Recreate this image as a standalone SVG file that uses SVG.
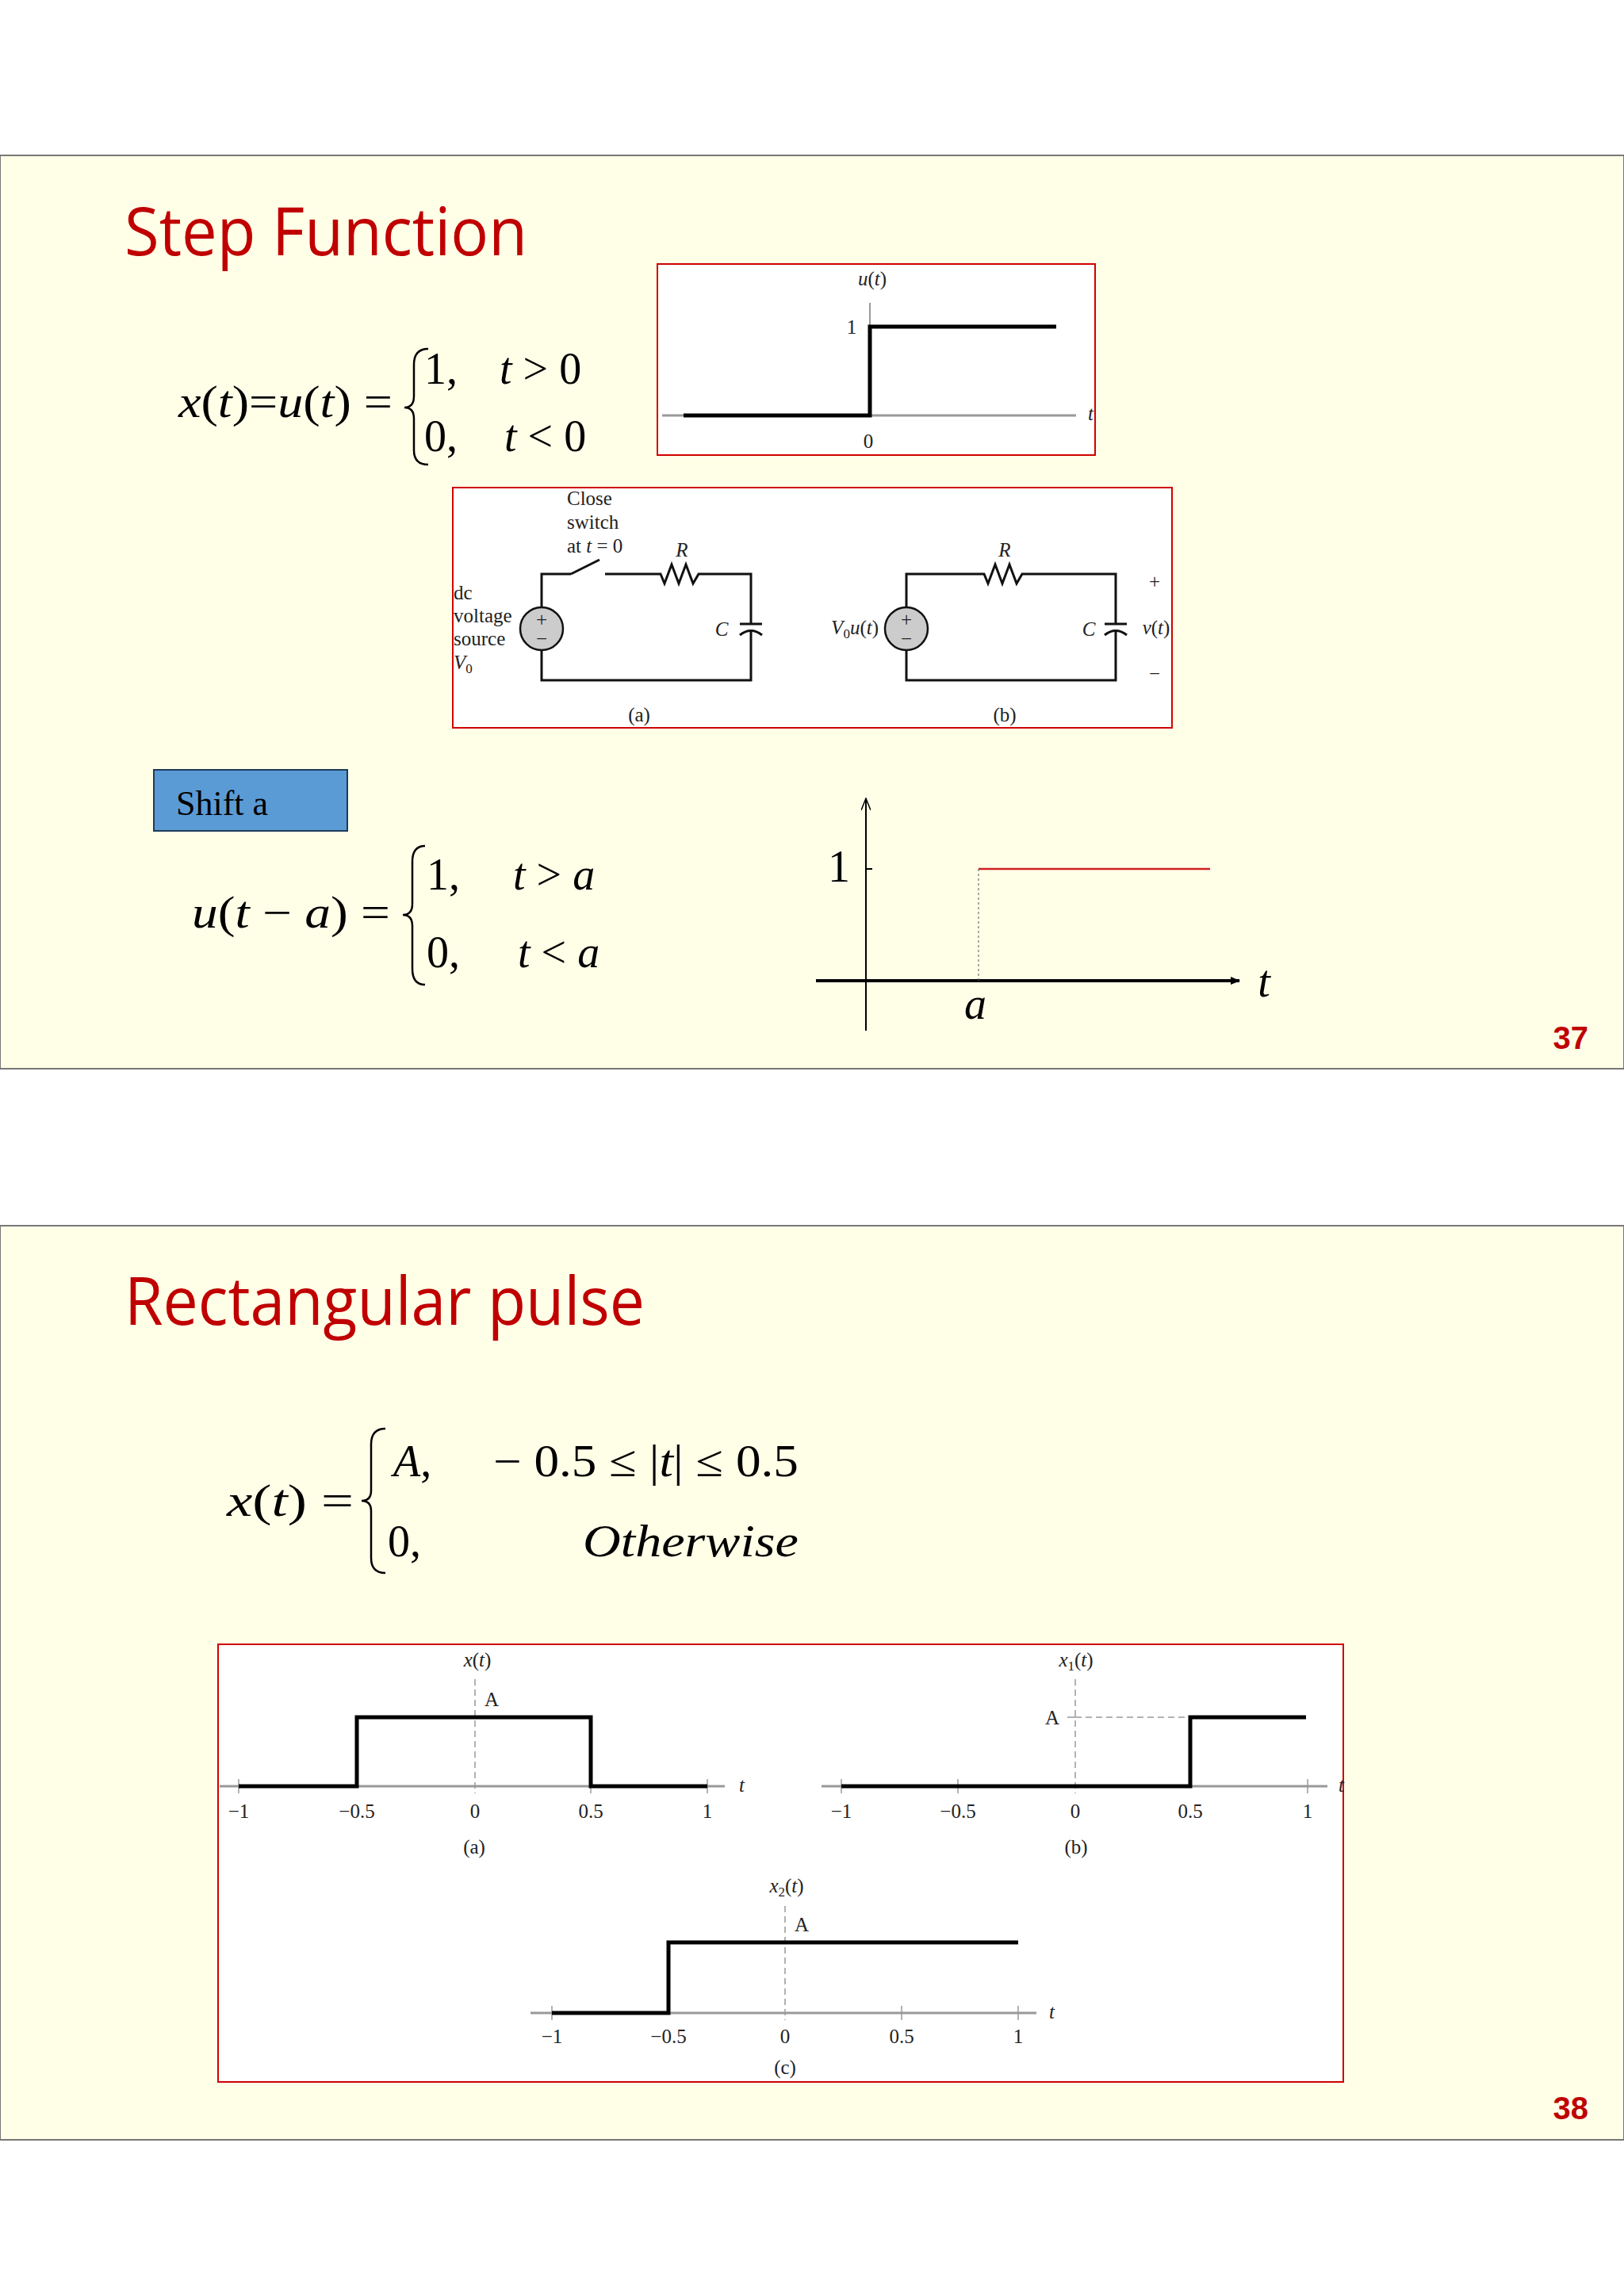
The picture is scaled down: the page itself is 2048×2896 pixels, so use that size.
<svg xmlns="http://www.w3.org/2000/svg" width="2048" height="2896" viewBox="0 0 2048 2896">
<style>
.slide{fill:#ffffe8;stroke:#777;stroke-width:2}
.title{font-family:"Open Sans","Liberation Sans",sans-serif;fill:#c00000;font-size:84px}
.pg{font-family:"Liberation Sans",sans-serif;font-weight:bold;fill:#c00000;font-size:40px}
.m{font-family:"Liberation Serif",serif;font-size:56px;fill:#000}
.i{font-style:italic}
.s{font-family:"Liberation Serif",serif;font-size:25px;fill:#222}
.fr{fill:#fff;stroke:#d00000;stroke-width:2}
.ax{stroke:#999;stroke-width:3;fill:none}
.sig{stroke:#000;stroke-width:5;fill:none}
.w{stroke:#111;stroke-width:3;fill:none}
.dash{stroke:#999;stroke-width:1.5;stroke-dasharray:8 5;fill:none}
</style>
<defs>
<marker id="ah" markerWidth="12" markerHeight="10" refX="11" refY="5" orient="auto" markerUnits="userSpaceOnUse"><path d="M0,0 L12,5 L0,10 Z" fill="#000"/></marker>
<marker id="ao" markerWidth="16" markerHeight="12" refX="15" refY="6" orient="auto" markerUnits="userSpaceOnUse"><path d="M0,0 L15,6 L0,12" fill="none" stroke="#000" stroke-width="1.5"/></marker>
</defs>
<rect width="2048" height="2896" fill="#fff"/>
<rect class="slide" x="0" y="196" width="2048" height="1152"/>
<rect class="slide" x="0" y="1546" width="2048" height="1153"/>

<g id="slide37">
<text class="title" x="157" y="322" textLength="508" lengthAdjust="spacingAndGlyphs">Step Function</text>
<g id="eq1" class="m">
<text x="225" y="526" textLength="270" lengthAdjust="spacingAndGlyphs"><tspan class="i">x</tspan>(<tspan class="i">t</tspan>)=<tspan class="i">u</tspan>(<tspan class="i">t</tspan>) =</text>
<path d="M540,440 Q522,440 522,460 L522,500 Q522,514 510,514 Q522,514 522,528 L522,568 Q522,586 540,586" fill="none" stroke="#000" stroke-width="2.5"/>
<text x="535" y="484">1,</text><text x="630" y="484"><tspan class="i">t</tspan> &gt; 0</text>
<text x="535" y="569">0,</text><text x="636" y="569"><tspan class="i">t</tspan> &lt; 0</text>
</g>
<g id="ut">
<rect class="fr" x="829" y="333" width="552" height="241"/>
<line class="ax" x1="835" y1="524" x2="1357" y2="524"/>
<line x1="1097" y1="382" x2="1097" y2="524" stroke="#999" stroke-width="2"/>
<polyline class="sig" points="862,524 1097,524 1097,412 1332,412"/>
<text class="s" x="1100" y="360" text-anchor="middle"><tspan class="i">u</tspan>(<tspan class="i">t</tspan>)</text>
<text class="s" x="1074" y="421" text-anchor="middle">1</text>
<text class="s" x="1095" y="565" text-anchor="middle">0</text>
<text class="s i" x="1372" y="530">t</text>
</g>
<g id="circuits">
<rect class="fr" x="571" y="615" width="907" height="303"/>
<polyline class="w" points="720,724 683,724 683,766"/>
<line class="w" x1="720" y1="724" x2="756" y2="706"/>
<polyline class="w" points="763,724 833,724 838,736 847,712 856,736 865,712 874,736 881,724 947,724 947,787"/>
<line class="w" x1="933" y1="787" x2="961" y2="787"/>
<path class="w" d="M933,801 Q947,790 961,801"/>
<polyline class="w" points="947,796 947,858 683,858 683,820"/>
<circle cx="683" cy="793" r="27" fill="#ccc" stroke="#111" stroke-width="2.5"/>
<text class="s" x="683" y="790" text-anchor="middle">+</text><text class="s" x="683" y="814" text-anchor="middle">−</text>
<text class="s" x="715" y="637">Close</text><text class="s" x="715" y="667">switch</text>
<text class="s" x="715" y="697">at <tspan class="i">t</tspan> = 0</text>
<text class="s i" x="860" y="702" text-anchor="middle">R</text>
<text class="s i" x="910" y="802" text-anchor="middle">C</text>
<text class="s" x="572" y="756">dc</text><text class="s" x="572" y="785">voltage</text><text class="s" x="572" y="814">source</text>
<text class="s" x="572" y="844"><tspan class="i">V</tspan><tspan font-size="17" dy="5">0</tspan></text>
<text class="s" x="806" y="910" text-anchor="middle">(a)</text>
<polyline class="w" points="1143,766 1143,724 1241,724 1246,736 1255,712 1264,736 1273,712 1282,736 1289,724 1407,724 1407,787"/>
<line class="w" x1="1393" y1="787" x2="1421" y2="787"/>
<path class="w" d="M1393,801 Q1407,790 1421,801"/>
<polyline class="w" points="1407,796 1407,858 1143,858 1143,820"/>
<circle cx="1143" cy="793" r="27" fill="#ccc" stroke="#111" stroke-width="2.5"/>
<text class="s" x="1143" y="790" text-anchor="middle">+</text><text class="s" x="1143" y="814" text-anchor="middle">−</text>
<text class="s i" x="1267" y="702" text-anchor="middle">R</text>
<text class="s" x="1108" y="800" text-anchor="end"><tspan class="i">V</tspan><tspan font-size="17" dy="5">0</tspan><tspan dy="-5" class="i">u</tspan>(<tspan class="i">t</tspan>)</text>
<text class="s i" x="1373" y="802" text-anchor="middle">C</text>
<text class="s" x="1458" y="800" text-anchor="middle"><tspan class="i">v</tspan>(<tspan class="i">t</tspan>)</text>
<text class="s" x="1456" y="742" text-anchor="middle">+</text><text class="s" x="1456" y="858" text-anchor="middle">−</text>
<text class="s" x="1267" y="910" text-anchor="middle">(b)</text>
</g>
<g id="shift">
<rect x="194" y="971" width="244" height="77" fill="#5b9bd5" stroke="#1f3a5a" stroke-width="2"/>
<text x="222" y="1028" font-family="Liberation Serif,serif" font-size="44">Shift  a</text>
</g>
<g id="eq2" class="m" font-size="60">
<text x="242" y="1170" textLength="250" lengthAdjust="spacingAndGlyphs"><tspan class="i">u</tspan>(<tspan class="i">t</tspan> − <tspan class="i">a</tspan>) =</text>
<path d="M536,1067 Q520,1067 520,1087 L520,1140 Q520,1154 508,1154 Q520,1154 520,1168 L520,1222 Q520,1242 536,1242" fill="none" stroke="#000" stroke-width="2.5"/>
<text x="538" y="1122">1,</text><text x="647" y="1122"><tspan class="i">t</tspan> &gt; <tspan class="i">a</tspan></text>
<text x="538" y="1220">0,</text><text x="653" y="1220"><tspan class="i">t</tspan> &lt; <tspan class="i">a</tspan></text>
</g>
<g id="shiftgraph">
<line x1="1092" y1="1300" x2="1092" y2="1007" stroke="#000" stroke-width="2" marker-end="url(#ao)"/>
<line x1="1029" y1="1237" x2="1563" y2="1237" stroke="#000" stroke-width="4" marker-end="url(#ah)"/>
<line x1="1092" y1="1096" x2="1100" y2="1096" stroke="#000" stroke-width="2"/>
<line x1="1234" y1="1096" x2="1526" y2="1096" stroke="#d02020" stroke-width="2.5"/>
<line x1="1234" y1="1096" x2="1234" y2="1237" stroke="#555" stroke-width="1" stroke-dasharray="3 3"/>
<text class="m" x="1058" y="1112" font-size="52" text-anchor="middle">1</text>
<text class="m i" x="1230" y="1285" font-size="52" text-anchor="middle">a</text>
<text class="m i" x="1594" y="1257" font-size="52" text-anchor="middle">t</text>
</g>
<text class="pg" x="2003" y="1323" text-anchor="end">37</text>
</g>

<g id="slide38">
<text class="title" x="157" y="1671" textLength="656" lengthAdjust="spacingAndGlyphs">Rectangular pulse</text>
<g id="eq3" class="m" font-size="60">
<text x="286" y="1912" textLength="160" lengthAdjust="spacingAndGlyphs"><tspan class="i">x</tspan>(<tspan class="i">t</tspan>) =</text>
<path d="M486,1802 Q468,1802 468,1822 L468,1880 Q468,1893 456,1893 Q468,1893 468,1906 L468,1965 Q468,1984 486,1984" fill="none" stroke="#000" stroke-width="2.5"/>
<text x="496" y="1862"><tspan class="i">A</tspan>,</text>
<text x="622" y="1862" textLength="385" lengthAdjust="spacingAndGlyphs">− 0.5 ≤ |<tspan class="i">t</tspan>| ≤ 0.5</text>
<text x="489" y="1963">0,</text>
<text class="i" x="735" y="1963" textLength="272" lengthAdjust="spacingAndGlyphs">Otherwise</text>
</g>
<g id="pulses">
<rect class="fr" x="275" y="2074" width="1419" height="552"/>
<g id="pa">
<line class="ax" x1="277" y1="2253" x2="914" y2="2253"/>
<line class="dash" x1="599" y1="2118" x2="599" y2="2262"/>
<g stroke="#999" stroke-width="1.5"><line x1="301" y1="2244" x2="301" y2="2262"/><line x1="745" y1="2244" x2="745" y2="2262"/><line x1="892" y1="2244" x2="892" y2="2262"/></g>
<polyline class="sig" points="301,2253 450,2253 450,2166 745,2166 745,2253 892,2253"/>
<text class="s" x="602" y="2102" text-anchor="middle"><tspan class="i">x</tspan>(<tspan class="i">t</tspan>)</text>
<text class="s" x="620" y="2152" text-anchor="middle">A</text>
<text class="s i" x="932" y="2260">t</text>
<g class="s" text-anchor="middle"><text x="301" y="2293">−1</text><text x="450" y="2293">−0.5</text><text x="599" y="2293">0</text><text x="745" y="2293">0.5</text><text x="892" y="2293">1</text><text x="598" y="2338">(a)</text></g>
</g>
<g id="pb">
<line class="ax" x1="1036" y1="2253" x2="1674" y2="2253"/>
<line class="dash" x1="1356" y1="2118" x2="1356" y2="2262"/>
<line class="dash" x1="1356" y1="2166" x2="1501" y2="2166"/>
<g stroke="#999" stroke-width="1.5"><line x1="1061" y1="2244" x2="1061" y2="2262"/><line x1="1208" y1="2244" x2="1208" y2="2262"/><line x1="1649" y1="2244" x2="1649" y2="2262"/><line x1="1346" y1="2166" x2="1356" y2="2166"/></g>
<polyline class="sig" points="1061,2253 1501,2253 1501,2166 1647,2166"/>
<text class="s" x="1357" y="2102" text-anchor="middle"><tspan class="i">x</tspan><tspan font-size="17" dy="5">1</tspan><tspan dy="-5">(</tspan><tspan class="i">t</tspan>)</text>
<text class="s" x="1327" y="2175" text-anchor="middle">A</text>
<text class="s i" x="1688" y="2260">t</text>
<g class="s" text-anchor="middle"><text x="1061" y="2293">−1</text><text x="1208" y="2293">−0.5</text><text x="1356" y="2293">0</text><text x="1501" y="2293">0.5</text><text x="1649" y="2293">1</text><text x="1357" y="2338">(b)</text></g>
</g>
<g id="pc">
<line class="ax" x1="669" y1="2539" x2="1307" y2="2539"/>
<line class="dash" x1="990" y1="2404" x2="990" y2="2548"/>
<g stroke="#999" stroke-width="1.5"><line x1="696" y1="2530" x2="696" y2="2548"/><line x1="1137" y1="2530" x2="1137" y2="2548"/><line x1="1284" y1="2530" x2="1284" y2="2548"/></g>
<polyline class="sig" points="696,2539 843,2539 843,2450 1284,2450"/>
<text class="s" x="992" y="2387" text-anchor="middle"><tspan class="i">x</tspan><tspan font-size="17" dy="5">2</tspan><tspan dy="-5">(</tspan><tspan class="i">t</tspan>)</text>
<text class="s" x="1011" y="2436" text-anchor="middle">A</text>
<text class="s i" x="1323" y="2546">t</text>
<g class="s" text-anchor="middle"><text x="696" y="2577">−1</text><text x="843" y="2577">−0.5</text><text x="990" y="2577">0</text><text x="1137" y="2577">0.5</text><text x="1284" y="2577">1</text><text x="990" y="2616">(c)</text></g>
</g>
</g>
<text class="pg" x="2003" y="2673" text-anchor="end">38</text>
</g>
</svg>
